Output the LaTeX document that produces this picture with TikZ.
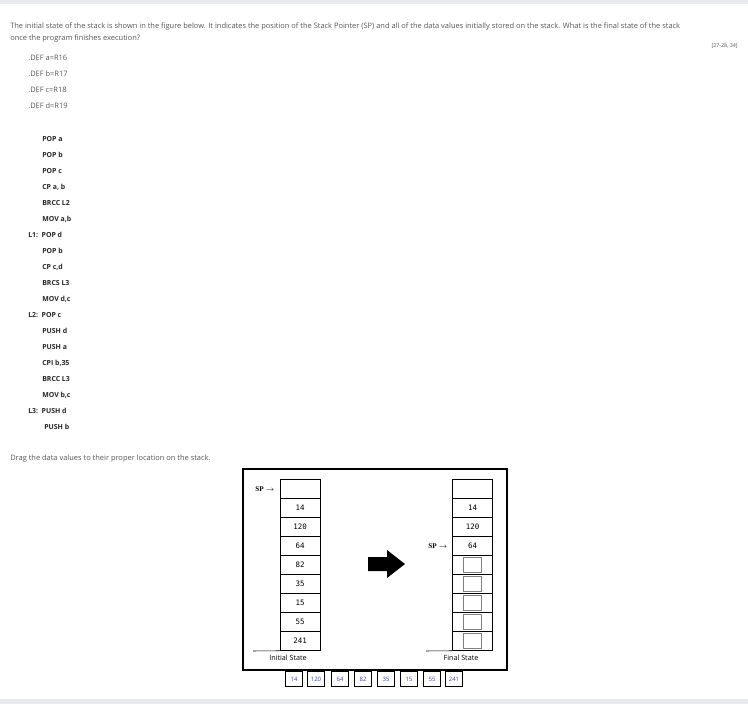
\documentclass[tikz,border=0pt]{standalone}
\usepackage{fontspec}
\setmainfont{Open Sans}
\newfontfamily\monof{DejaVu Sans Mono}
\newfontfamily\serb{Liberation Serif}
\definecolor{txt}{HTML}{555555}
\definecolor{bar}{HTML}{E8EBEE}
\begin{document}
\begin{tikzpicture}[x=0.75pt,y=-0.75pt,
  para/.style={anchor=west,inner sep=0,text=txt,font=\fontsize{5.6}{7}\selectfont},
  code/.style={anchor=west,inner sep=0,text=black!85,font=\fontsize{5.2}{6}\selectfont\bfseries},
  cell/.style={draw,minimum width=30pt,minimum height=14.25pt,inner sep=0,font=\monof\fontsize{5.6}{6}\selectfont},
  slot/.style={draw,gray,minimum width=13.5pt,minimum height=11pt,inner sep=0},
  tile/.style={draw,minimum width=13pt,minimum height=11pt,inner sep=0,text=blue!50!gray,font=\fontsize{4.5}{5}\selectfont},
  lab/.style={inner sep=0,font=\fontsize{5.4}{6}\selectfont},
  spl/.style={inner sep=0,font=\serb\bfseries\fontsize{5.4}{6}\selectfont}]
\useasboundingbox (0,0) rectangle (748,704);
\fill[bar] (0,0) rectangle (748,4);
\fill[bar] (0,699) rectangle (748,704);
\node[para] (q1) at (10,27) {The initial state of the stack is shown in the figure below. It indicates the position of the Stack Pointer (SP) and all of the data values initially stored on the stack. What is the final state of the stack};
\node[para] (q2) at (10,39) {once the program finishes execution?};
\node[para,anchor=east,font=\fontsize{4}{5}\selectfont] (ref) at (738,46) {[27-28, 34]};
\foreach \t/\y [count=\i] in {.DEF a=R16/58,.DEF b=R17/74,.DEF c=R18/90,.DEF d=R19/106}
  \node[para] (d\i) at (28,\y) {\t};
\foreach \t/\y [count=\i] in {POP a/139,POP b/155,POP c/171,{CP a, b}/187,BRCC L2/203,{MOV a,b}/219,
  POP b/251,{CP c,d}/267,BRCS L3/283,{MOV d,c}/299,PUSH d/331,PUSH a/347,{CPI b,35}/363,BRCC L3/379,{MOV b,c}/395}
  \node[code] (c\i) at (42,\y) {\t};
\node[code] (l1) at (28,235) {L1:\ \ POP d};
\node[code] (l2) at (28,315) {L2:\ \ POP c};
\node[code] (l3) at (28,411) {L3:\ \ PUSH d};
\node[code] (pb) at (44,427) {PUSH b};
\node[para] (drag) at (10,459) {Drag the data values to their proper location on the stack.};
\draw[line width=0.8pt] (243,469) rectangle (507,670);
% left stack
\foreach \v [count=\i from 0] in {{},14,120,64,82,35,15,55,241}
  \node[cell] (a\i) at (300,{488.5+19*\i}) {\v};
\draw (253,651) -- (a8.south east);
\node[lab] (is) at (288,658) {Initial State};
\node[spl] (sp1) at (265,489) {SP $\rightarrow$};
% right stack
\foreach \v [count=\i from 0] in {{},14,120,64,{},{},{},{},{}}
  \node[cell] (b\i) at (472.5,{488.5+19*\i}) {\v};
\foreach \i in {4,...,8} \node[slot] (s\i) at (b\i) {};
\draw (426,651) -- (b8.south east);
\node[lab] (fs) at (461,658) {Final State};
\node[spl] (sp2) at (438,546) {SP $\rightarrow$};
\fill (368,557) -- (387,557) -- (387,550) -- (405,564) -- (387,578) -- (387,571) -- (368,571) -- cycle;
\foreach \v/\x [count=\i] in {14/294,120/316,64/340,82/363,35/386,15/409,55/432,241/454}
  \node[tile] (t\i) at (\x,679) {\v};
\end{tikzpicture}
\end{document}
